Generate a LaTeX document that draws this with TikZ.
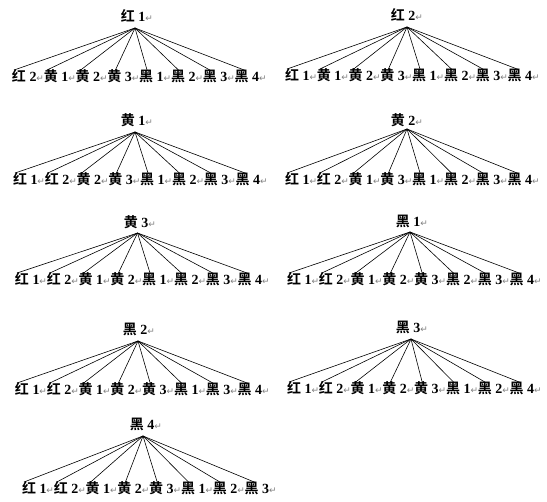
\documentclass[tikz,border=0pt]{standalone}
\usepackage{fontspec}
\setmainfont{Liberation Serif}
\newfontfamily\cjk{Noto Sans CJK SC}[BoldFont={Noto Sans CJK SC Bold}]
\newfontfamily\symf{DejaVu Sans}
\usetikzlibrary{calc}
\newcommand{\retmark}{{\symf\fontsize{9}{9}\selectfont\color{gray}↵}}
\newcommand{\treelab}[2]{{\cjk\bfseries #1}\hspace{3.5pt}\textbf{#2}\retmark}
\tikzset{
  lab/.style={inner sep=0pt, outer sep=0pt, font=\fontsize{14}{14}\selectfont},
  edge/.style={draw=black, line width=0.6pt}
}
\begin{document}
\begin{tikzpicture}[x=1pt, y=-1pt]
\useasboundingbox (0,0) rectangle (547,502);
\foreach \i/\rc/\rn/\rx/\ry/\ax/\ay/\sx/\by in {
  1/红/1/137/21.5/135/28/12/82,
  2/红/2/407/20.5/407/27/285/81,
  3/黄/1/137/126/135/132/13/185,
  4/黄/2/407/126/407/129/285/185,
  5/黄/3/140/228/137.5/233/15/285,
  6/黑/1/412/227/410/232/287/285,
  7/黑/2/139/335/138/341/15/395,
  8/黑/3/412/333/411/339/287/394,
  9/黑/4/146/430/143/436/22/494}{
  \node[lab, anchor=base] (r\i) at (\rx,\ry) {\treelab{\rc}{\rn}};
  \coordinate (a\i) at (\ax,\ay);
  \foreach \k/\cc/\cn in {1/红/1,2/红/2,3/黄/1,4/黄/2,5/黄/3,6/黑/1,7/黑/2,8/黑/3,9/黑/4}{
    \ifnum\k=\i\else
      \pgfmathtruncatemacro\j{\k<\i ? \k : \k-1}
      \pgfmathsetmacro\off{{2,3,5,8,8,8,8,11}[\j-1]}
      \node[lab, anchor=base west] (c\i-\j) at ({\sx+31.8*(\j-1)},\by) {\treelab{\cc}{\cn}};
      \draw[edge] (a\i) -- ($(c\i-\j.north west)+(\off,0)$);
    \fi
  }
}
\end{tikzpicture}
\end{document}
